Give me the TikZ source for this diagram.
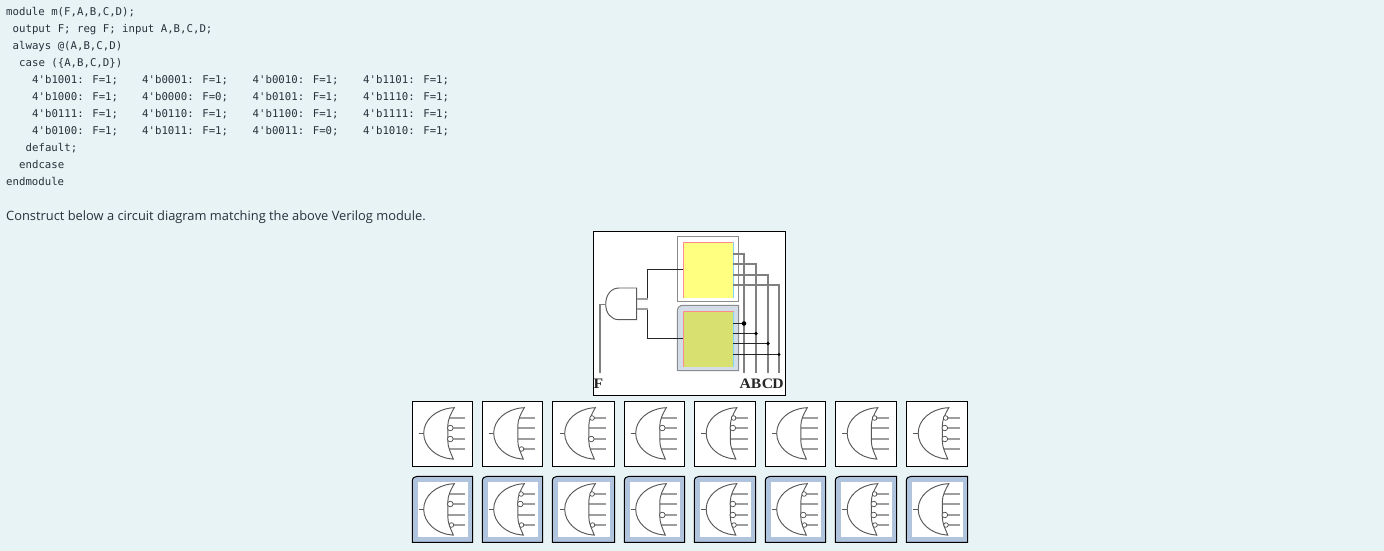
\documentclass[tikz,border=0pt]{standalone}
\usepackage{fontspec}
\newfontfamily\codefont{DejaVu Sans Mono}
\newfontfamily\uifont{Open Sans}
\newfontfamily\pinfont[FakeStretch=1.08]{Liberation Serif}
\definecolor{pagebg}{HTML}{E8F3F5}
\definecolor{inktext}{HTML}{24323B}
\definecolor{frameblue}{HTML}{B0C4DE}
\definecolor{softblue}{HTML}{D2DDE8}
\definecolor{sheetyellow}{HTML}{FFFF80}
\definecolor{sheetolive}{HTML}{D8E070}
\tikzset{
  x=1pt,y=-1pt,
  code/.style={anchor=base west,inner sep=0pt,text=inktext,font=\codefont\fontsize{10.7}{12}\selectfont},
  prose/.style={anchor=base west,inner sep=0pt,text=inktext,font=\uifont\fontsize{12.87}{15}\selectfont},
  pinlabel/.style={anchor=base,inner sep=0pt,text=black!85,font=\pinfont\bfseries\fontsize{14.5}{14.5}\selectfont},
  outerbox/.style={draw=black,fill=white,line width=1pt,inner sep=0pt},
  sheetbox/.style={draw=gray!90,line width=1pt,inner sep=0pt},
  wire/.style={draw=black!85,line width=1pt},
  buswire/.style={draw=black!50,line width=1.1pt},
  gateline/.style={draw=black!65,line width=.95pt},
  inwire/.style={draw=black!38,line width=1.1pt},
  junction/.style={circle,fill=black,inner sep=0pt,minimum size=3.6pt},
  bubble/.style={circle,draw=black!70,fill=white,line width=.7pt,inner sep=0pt},
}
% #1 name, #2 left, #3 right, #4 top, #5 list of inverted inputs
\newcommand{\orgate}[5]{%
  \pgfmathsetmacro{\gatetip}{(#2+#3)/2+11.8}%
  \begin{scope}[shift={(\gatetip,#4)}]
    \coordinate (#1-out) at (-35.6,25.5);
    \coordinate (#1-bodyl) at (-30.6,25.5);
    \foreach \ypos [count=\k] in {10.3,20.3,31.3,41.3}
      \draw[inwire] (-6.5,\ypos) -- (10.7,\ypos);
    \draw[gateline,fill=white] (0,0) -- (-2,0.1) .. controls (-18,1.5) and (-30.6,12) .. (-30.6,25.5)
      .. controls (-30.6,39) and (-18,50) .. (-3,51.2) -- (-1,51.4)
      .. controls (-3.5,45) and (-6.5,40) .. (-6.5,33) -- (-6.5,18)
      .. controls (-6.5,12) and (-3.5,6) .. (0,0) -- cycle;
    \draw[gateline] (#1-out) -- (#1-bodyl);
    \foreach \b in {#5} {
      \ifcase\b\or
        \node[bubble,minimum size=4.6pt] at (-3.2,10.3) {};\or
        \node[bubble,minimum size=5.6pt] at (-4,20.3) {};\or
        \node[bubble,minimum size=5.6pt] at (-4,31.3) {};\or
        \node[bubble,minimum size=4.6pt] at (-2.8,41.3) {};\fi
    }
  \end{scope}}
\newcommand{\plaincell}[5]{%
  \pgfmathsetmacro{\cellw}{#3-#2}\pgfmathsetmacro{\cellc}{(#2+#3)/2}%
  \node[outerbox,minimum width=\cellw pt,minimum height=65pt] (#1) at (\cellc,433.8) {};
  \orgate{#1}{#2}{#3}{407.7}{#4}}
\newcommand{\bluecell}[5]{%
  \draw[fill=frameblue,draw=black,line width=1pt] (#2+5,476.3) -- (#3,476.3) -- (#3,542.3) -- (#2,542.3) -- (#2,481.3) .. controls (#2,478) and (#2+2,476.3) .. (#2+5,476.3) -- cycle;
  \fill[white] (#2+5.2,482) rectangle (#3-4.5,537);
  \orgate{#1}{#2}{#3}{483.7}{#4}}
\begin{document}
\begin{tikzpicture}
\useasboundingbox (0,0) rectangle (1384,551);
\fill[pagebg] (0,0) rectangle (1384,551);

% code listing
\node[code] (l1) at (6,15.5) {module m(F,A,B,C,D);};
\node[code] (l2) at (12.5,32.5) {output F; reg F; input A,B,C,D;};
\node[code] (l3) at (12.5,49) {always @(A,B,C,D)};
\node[code] (l4) at (19,66.5) {case (\{A,B,C,D\})};
\foreach \rowy/\ca/\cb/\cc/\cd in {83/4'b1001: F=1;/4'b0001: F=1;/4'b0010: F=1;/4'b1101: F=1;,
  100/4'b1000: F=1;/4'b0000: F=0;/4'b0101: F=1;/4'b1110: F=1;,
  117/4'b0111: F=1;/4'b0110: F=1;/4'b1100: F=1;/4'b1111: F=1;,
  134/4'b0100: F=1;/4'b1011: F=1;/4'b0011: F=0;/4'b1010: F=1;} {
  \node[code] (ra\rowy) at (32,\rowy) {\ca};
  \node[code] (rb\rowy) at (142,\rowy) {\cb};
  \node[code] (rc\rowy) at (252.5,\rowy) {\cc};
  \node[code] (rd\rowy) at (363,\rowy) {\cd};
}
\node[code] (l9) at (25.5,151) {default;};
\node[code] (l10) at (19,168) {endcase};
\node[code] (l11) at (6,185) {endmodule};
\node[prose] (prompt) at (6,220) {Construct below a circuit diagram matching the above Verilog module.};

% main circuit
\node[outerbox,minimum width=192.7pt,minimum height=164pt] (main) at (689.35,313.7) {};
\node[sheetbox,fill=white,minimum width=61.4pt,minimum height=65pt] (upper) at (708,269.2) {};
\draw[sheetbox,fill=softblue] (683.3,305.3) -- (738.7,305.3) -- (738.7,370.7) -- (677.3,370.7) -- (677.3,311.3) .. controls (677.3,307.5) and (679.5,305.3) .. (683.3,305.3) -- cycle;
\node[inner sep=0pt,fill=sheetyellow,minimum width=50pt,minimum height=55.4pt] (usheet) at (708.3,270) {};
\node[inner sep=0pt,fill=sheetolive,minimum width=50pt,minimum height=55pt] (lsheet) at (708.3,339.2) {};
\foreach \s in {usheet,lsheet} {
  \draw[color=red!45!white,line width=.9pt] (\s.south west) -- (\s.north west) -- (\s.north east);
  \draw[color=cyan!50!white,line width=.9pt] (\s.north east) -- (\s.south east);
}

% AND gate
\coordinate (andtop) at (636.7,288);
\coordinate (andbot) at (636.7,319.7);
\coordinate (andin1) at (636.7,299);
\coordinate (andin2) at (636.7,309);
\coordinate (andout) at (605.7,304.3);
\draw[gateline,fill=white] (andtop) -- (619,288) .. controls (611,288) and (605.7,295) .. (andout) .. controls (605.7,313) and (611,319.7) .. (619,319.7) -- (andbot) -- cycle;
\coordinate (fend) at (600,372.7);
\draw[buswire] (andout) -- (600,304.3) -- (fend);
\draw[wire] (usheet.west |- 0,269.5) -- (647.5,269.5) -- (647.5,299);
\draw[inwire] (647.7,299) -- (andin1);
\draw[wire] (lsheet.west |- 0,338.5) -- (647.5,338.5) -- (647.5,309);
\draw[inwire] (647.7,309) -- (andin2);

% bus
\foreach \nm/\bx/\yu/\yl/\dsize in {A/744/254/323.5/4.6pt,B/756/264/333.5/3.6pt,C/768/275/343.5/3.6pt,D/779/285/354.5/3.2pt} {
  \coordinate (top\nm) at (\bx,\yu);
  \coordinate (end\nm) at (\bx,372.7);
  \draw[buswire] (733.3,\yu) -- (top\nm) -- (end\nm);
  \draw[wire] (733.3,\yl) -- (\bx,\yl);
  \node[junction,minimum size=\dsize] (j\nm) at (\bx,\yl) {};
}
\node[pinlabel] (fF) at (598.5,388.5) {F};
\node[pinlabel] (lA) at (745.3,388.5) {A};
\node[pinlabel] (lB) at (756,388.5) {B};
\node[pinlabel] (lC) at (767.4,388.5) {C};
\node[pinlabel] (lD) at (778,388.5) {D};

% choices
\plaincell{t1}{412.3}{472.7}{2,3}{}
\plaincell{t2}{482.3}{542.7}{4}{}
\plaincell{t3}{552.3}{614.7}{1,3}{}
\plaincell{t4}{624.3}{684.7}{2}{}
\plaincell{t5}{694.3}{755.7}{1,2}{}
\plaincell{t6}{765.3}{825.7}{0}{}
\plaincell{t7}{835.3}{896.7}{1}{}
\plaincell{t8}{906.3}{967.7}{1,2,3}{}
\bluecell{b1}{412.3}{472.7}{2,4}{}
\bluecell{b2}{482.3}{542.7}{1,2,4}{}
\bluecell{b3}{552.3}{614.7}{1,4}{}
\bluecell{b4}{624.3}{684.7}{3}{}
\bluecell{b5}{694.3}{755.7}{2,3,4}{}
\bluecell{b6}{765.3}{825.7}{1,3,4}{}
\bluecell{b7}{835.3}{896.7}{1,2,3,4}{}
\bluecell{b8}{906.3}{967.7}{3,4}{}
\end{tikzpicture}
\end{document}
